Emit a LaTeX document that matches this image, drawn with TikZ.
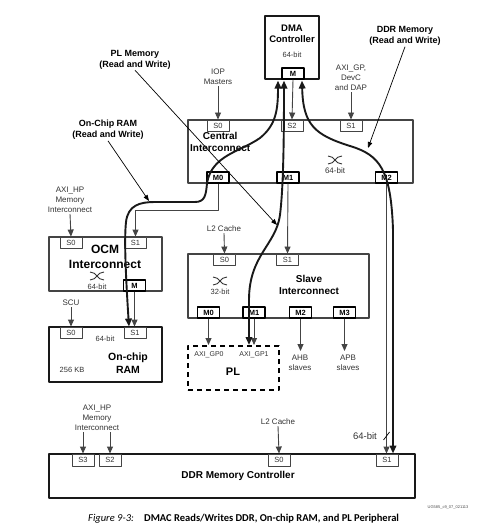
\documentclass[tikz,border=0pt]{standalone}
\usepackage{fontspec}
\setmainfont{Liberation Sans}
\newfontfamily\capfont{Carlito}
\usetikzlibrary{arrows.meta,calc}
\definecolor{txt}{HTML}{333333}
\definecolor{edge}{HTML}{444444}
\begin{document}
\begin{tikzpicture}[x=1pt,y=-1pt,line join=round,
  fs/.style={font=\fontsize{8}{10}\selectfont,text=txt,inner sep=1pt,align=center},
  fsm/.style={font=\fontsize{7.5}{9}\selectfont,text=txt,inner sep=0pt,align=center},
  fb/.style={font=\fontsize{10}{12}\selectfont\bfseries,inner sep=0pt,align=center},
  lbl/.style={font=\fontsize{9}{11}\selectfont\bfseries,inner sep=1pt,align=center},
  thinbox/.style={draw=edge,line width=1.1pt,inner sep=0pt},
  thickbox/.style={draw=black!90,line width=2pt,inner sep=0pt},
  port/.style={draw=edge,line width=0.9pt,fill=white,minimum width=22pt,minimum height=11pt,inner sep=0pt,font=\fontsize{7.5}{9}\selectfont,text=txt},
  mport/.style={port,draw=black,line width=1.1pt,font=\fontsize{7.5}{9}\selectfont\bfseries,text=black},
  conn/.style={draw=edge,line width=0.9pt,-{Triangle[length=7pt,width=6pt]}},
  pointer/.style={draw=black,line width=0.7pt,-{Triangle[length=6pt,width=4.5pt]}},
  flow/.style={draw=black!90,line width=1.9pt,{Triangle[length=8pt,width=6.5pt]}-{Triangle[length=8pt,width=6.5pt]}},
  pics/xbar/.style={code={
    \draw[black!80,line width=0.9pt] (-7,-4) .. controls (0,-4) and (0,4) .. (7,4);
    \draw[black!80,line width=0.9pt] (-7,4) .. controls (0,4) and (0,-4) .. (7,-4);}}
]
\useasboundingbox (0,0) rectangle (491,529);

% ---- main blocks
\node[thickbox,minimum width=54pt,minimum height=63pt] (dma) at (292,47.5) {};
\node[thinbox,minimum width=225pt,minimum height=63pt] (ci) at (300.5,151.5) {};
\node[thinbox,minimum width=113pt,minimum height=54pt] (ocm) at (105.5,264) {};
\node[thickbox,minimum width=113pt,minimum height=55pt] (ram) at (105.5,354.5) {};
\node[thinbox,minimum width=181pt,minimum height=64pt] (si) at (278.5,286) {};
\node[draw=black,line width=2pt,dash pattern=on 5pt off 4pt,minimum width=91pt,minimum height=44pt,inner sep=0pt] (pl) at (233.5,368) {};
\node[thickbox,minimum width=366pt,minimum height=44pt] (ddr) at (232,476) {};

% ---- texts in blocks
\node[fb,font=\fontsize{9.5}{11}\selectfont\bfseries] (dmat) at (292,33.5) {DMA\\Controller};
\node[fsm] (dmab) at (292,55) {64-bit};
\node[fb,anchor=west] (cit) at (190,142) {Central\\Interconnect};
\pic at (335,160) {xbar};
\node[fs] (cib) at (335,171) {64-bit};
\node[fb,font=\fontsize{12}{15}\selectfont\bfseries] (ocmt) at (105,256.5) {OCM\\Interconnect};
\pic at (97,276) {xbar};
\node[fsm] (ocmb) at (97,286.5) {64-bit};
\node[fsm] (ramb) at (105,338.5) {64-bit};
\node[fb,font=\fontsize{10.5}{13}\selectfont\bfseries] (ramt) at (128,363.5) {On-chip\\RAM};
\node[fsm] (ramk) at (72,370) {256 KB};
\pic at (220,281) {xbar};
\node[fsm] (sib) at (220,291.5) {32-bit};
\node[fb,font=\fontsize{10}{12.5}\selectfont\bfseries] (sit) at (309,285) {Slave\\Interconnect};
\node[fsm,font=\fontsize{7}{9}\selectfont] (gp0) at (209,355) {AXI\_GP0};
\node[fsm,font=\fontsize{7}{9}\selectfont] (gp1) at (254,355) {AXI\_GP1};
\node[fb,font=\fontsize{11}{13}\selectfont\bfseries] (plt) at (233,372) {PL};
\node[fb] (ddrt) at (238,476) {DDR Memory Controller};

% ---- ports
\node[mport] (dmaM) at (293,73.5) {M};
\node[port] (cS0) at (218,125.5) {S0};
\node[port] (cS2) at (292,125.5) {S2};
\node[port] (cS1) at (351,125.5) {S1};
\node[mport] (cM0) at (218,177.5) {M0};
\node[mport] (cM1) at (288,177.5) {M1};
\node[mport] (cM2) at (386.5,177.5) {M2};
\node[port] (oS0) at (71,242.5) {S0};
\node[port] (oS1) at (135.5,242.5) {S1};
\node[mport] (oM) at (134.5,285.5) {M};
\node[port] (rS0) at (71,332.5) {S0};
\node[port] (rS1) at (135,332.5) {S1};
\node[port] (sS0) at (224.5,259.5) {S0};
\node[port] (sS1) at (287.5,259.5) {S1};
\node[mport] (sM0) at (208.5,312.5) {M0};
\node[mport] (sM1) at (254,312.5) {M1};
\node[mport] (sM2) at (300.5,312.5) {M2};
\node[mport] (sM3) at (344.5,312.5) {M3};
\node[port,minimum height=12pt] (dS3) at (83,460) {S3};
\node[port,minimum height=12pt] (dS2) at (110,460) {S2};
\node[port,minimum height=12pt] (dS0) at (279,460) {S0};
\node[port,minimum height=12pt] (dS1) at (387,460) {S1};

% ---- outside labels
\node[fs] (iop) at (218,77) {IOP\\Masters};
\node[fs] (axigp) at (351,78) {AXI\_GP,\\DevC\\and DAP};
\node[fs] (hpo) at (70,200) {AXI\_HP\\Memory\\Interconnect};
\node[fs] (scu) at (71,303) {SCU};
\node[fs] (l2s) at (224,229) {L2 Cache};
\node[fs] (ahb) at (300,363) {AHB\\slaves};
\node[fs] (apb) at (348,363) {APB\\slaves};
\node[fs] (hpd) at (97,418) {AXI\_HP\\Memory\\Interconnect};
\node[fs] (l2d) at (278,422) {L2 Cache};
\node[fs,font=\fontsize{9.5}{11}\selectfont] (w64) at (365,436) {64-bit};
\node[lbl] (ddrl) at (405,36) {DDR Memory\\(Read and Write)};
\node[lbl] (pll) at (135,59.5) {PL Memory\\(Read and Write)};
\node[lbl] (ocml) at (108,130) {On-Chip RAM\\(Read and Write)};

% ---- thin connectors
\draw[conn] (iop.south) -- (cS0.north);
\draw[conn] (axigp.south) -- (cS1.north);
\draw[conn] (dmaM.south) -- (cS2.north);
\draw[conn] (cM0.south) -- ++(0,27) -| (oS1.north);
\draw[conn] (cM1.south) -- (sS1.north);
\draw[conn] (cM2.south) -- (cM2.south |- dS1.north);
\draw[conn] (hpo.south) -- (oS0.north);
\draw[conn] (oM.south) -- (oM.south |- rS1.north);
\draw[conn] (scu.south) -- (rS0.north);
\draw[conn] (l2s.south) -- (sS0.north);
\draw[conn] (sM0.south) -- (sM0.south |- pl.north);
\draw[conn] (sM1.south) -- (sM1.south |- pl.north);
\draw[conn] (sM2.south) -- ($(sM2.south |- ahb.north)+(0,-3)$);
\draw[conn] (sM3.south) -- ($(sM3.south |- apb.north)+(0,-3)$);
\draw[conn] (hpd.south -| dS3.north) -- (dS3.north);
\draw[conn] (hpd.south -| dS2.north) -- (dS2.north);
\draw[conn] (l2d.south) -- (dS0.north);
\coordinate (tk) at (386.5,436);
\draw[black,line width=0.7pt] ($(tk)+(-3,4)$) -- ($(tk)+(3,-4)$);

% ---- DMA data flows (thick)
\draw[flow] ($(rS1.north)+(-6,0)$) .. controls (126,280) and (124,240) .. (126,222)
   .. controls (128,205) and (140,202) .. (155,202) -- (195,202)
   .. controls (205,202) and (206,195) .. (207,183)
   .. controls (212,155) and (240,152) .. (260,138)
   .. controls (276,125) and (278,110) .. ($(dmaM.south)+(-15,1)$);
\draw[flow] ($(dmaM.south)+(-9,1)$) .. controls (284,150) and (283,190) .. (280,215)
   .. controls (276,245) and (249,255) .. (249,300) -- ($(pl.north)+(15.5,0)$);
\draw[flow] ($(dmaM.south)+(9,1)$) .. controls (303,125) and (315,135) .. (350,146)
   .. controls (380,155) and (391,170) .. (393,230) -- ($(dS1.north)+(6,0)$);

% ---- pointer arrows from labels
\draw[pointer] (ocml.south) -- (149,201);
\draw[pointer] (pll.south) -- (277,225);
\draw[pointer] (ddrl.south) -- (368,148);

% ---- caption
\node[anchor=west,inner sep=0pt,font=\capfont\fontsize{10.5}{12}\selectfont\itshape] (figno) at (88,519) {Figure 9-3:};
\node[anchor=west,inner sep=0pt,font=\capfont\fontsize{10.5}{12}\selectfont\bfseries] (cap) at (144,519) {DMAC Reads/Writes DDR, On-chip RAM, and PL Peripheral};
\node[inner sep=0pt,font=\fontsize{4}{5}\selectfont,text=black!70] (ug) at (448,507) {UG585\_c9\_07\_021113};
\end{tikzpicture}
\end{document}
